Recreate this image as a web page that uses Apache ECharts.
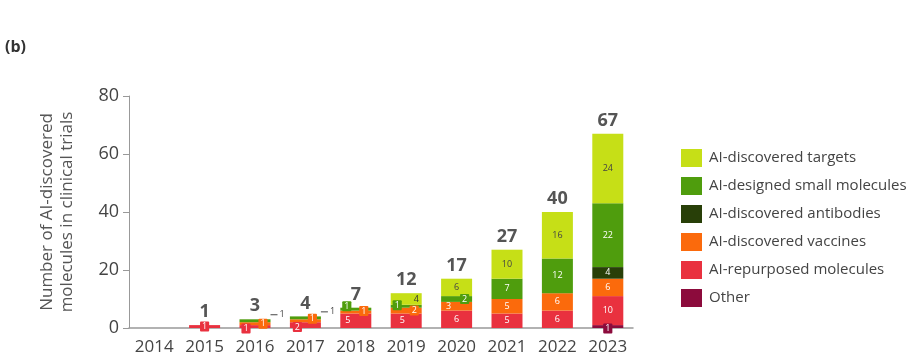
<!DOCTYPE html>
<html>
<head>
<meta charset="utf-8">
<script src="https://cdn.jsdelivr.net/npm/echarts@6/dist/echarts.min.js"></script>
<style>
html,body{margin:0;padding:0;background:#fff;}
#chart{width:914px;height:358px;}
</style>
</head>
<body>
<div id="chart"></div>
<script>
const years = ['2014','2015','2016','2017','2018','2019','2020','2021','2022','2023'];
const other        = [0,0,0,0,0,0,0,0,0,1];
const repurposed   = [0,1,1,2,5,5,6,5,6,10];
const vaccines     = [0,0,1,1,1,2,3,5,6,6];
const antibodies   = [0,0,0,0,0,0,0,0,0,4];
const smallMols    = [0,0,1,1,1,1,2,7,12,22];
const targets      = [0,0,0,0,0,4,6,10,16,24];
const totals       = [0,1,3,4,7,12,17,27,40,67];
const yTicks = [0,20,40,60,80];

const C = {
  targets:'#c6df17', small:'#4f9d0d', anti:'#283f08', vacc:'#fb6a0c', rep:'#e9313f', other:'#8c0b3c'
};

function box(color, off){
  return {show:true, position:'inside', offset:off||[0,0], color:'#fff', fontSize:9,
    fontFamily:'Open Sans', backgroundColor:color, padding:[1,2,0,2], borderRadius:1};
}
function txt(color, off){
  return {show:true, position:'inside', offset:off||[0,0], color:color, fontSize:9, fontFamily:'Open Sans'};
}
const leader = {show:true, position:'right', distance:0, offset:[0,-6],
  formatter:'{d|}{t|1}', rich:{d:{width:7,height:1,backgroundColor:'#444'}, t:{color:'#444',fontSize:9,padding:[0,0,0,2],fontFamily:'Open Sans'}}};

const overrides = {
  other: {9: box(C.other,[0,2])},
  rep: {1: box(C.rep,[0,0]), 2: box(C.rep,[-9,2]), 3: box(C.rep,[-8,2]), 4: txt('#fff',[-8,0]), 5: txt('#fff',[-4,0])},
  vacc: {2: box(C.vacc,[8,0]), 3: box(C.vacc,[7,-2]), 4: box(C.vacc,[8,-1]), 5: box(C.vacc,[8,0]), 6: txt('#fff',[-8,0])},
  small: {2: leader, 3: leader, 4: box(C.small,[-9,-3]), 5: box(C.small,[-9,-1]), 6: box(C.small,[8,0])},
  targets: {5: txt('#333',[10,0])}
};

function makeData(vals, key, color, textColor){
  return vals.map(function(v,i){
    const item = {value:v};
    const o = overrides[key] && overrides[key][i];
    if (o) item.label = o;
    else if (v > 0) item.label = {show:true, position:'inside', color:textColor, fontSize:9, fontFamily:'Open Sans'};
    else item.label = {show:false};
    return item;
  });
}

function ser(name, key, vals, color, textColor){
  return {name:name, type:'bar', stack:'s', barWidth:31,
    itemStyle:{color:color}, data:makeData(vals,key,color,textColor),
    label:{show:false}};
}

const series = [
  ser('Other','other',other,C.other,'#fff'),
  ser('AI-repurposed molecules','rep',repurposed,C.rep,'#fff'),
  ser('AI-discovered vaccines','vacc',vaccines,C.vacc,'#fff'),
  ser('AI-discovered antibodies','anti',antibodies,C.anti,'#fff'),
  ser('AI-designed small molecules','small',smallMols,C.small,'#fff'),
  ser('AI-discovered targets','targets',targets,C.targets,'#444'),
  {name:'Total', type:'bar', stack:'s', barWidth:31, data:totals.map(function(){return 0;}),
   itemStyle:{color:'transparent'},
   label:{show:true, position:'top', distance:4, color:'#555', fontSize:18, fontWeight:'bold', fontFamily:'Open Sans',
     formatter:function(p){return totals[p.dataIndex] ? String(totals[p.dataIndex]) : '';}}}
];

const chart = echarts.init(document.getElementById('chart'));
chart.setOption({
  animation:false,
  textStyle:{fontFamily:'Open Sans'},
  title:{text:'(b)', left:0, top:34, textStyle:{fontSize:16, fontWeight:'bold', color:'#333', fontFamily:'Open Sans'}},
  grid:{left:129, right:281, top:96, bottom:30},
  legend:{orient:'vertical', left:676, top:144, itemWidth:21, itemHeight:18, itemGap:10,
    icon:'rect',
    data:['AI-discovered targets','AI-designed small molecules','AI-discovered antibodies','AI-discovered vaccines','AI-repurposed molecules','Other'],
    textStyle:{fontSize:15, color:'#444', fontFamily:'Open Sans', padding:[0,0,0,2]}},
  xAxis:{type:'category', data:years,
    axisLine:{lineStyle:{color:'#999', width:1.5}}, axisTick:{show:false},
    axisLabel:{color:'#444', fontSize:17, margin:11, interval:0, hideOverlap:false, fontFamily:'Open Sans'}},
  yAxis:{type:'value', min:yTicks[0], max:yTicks[yTicks.length-1], interval:20,
    name:'Number of AI-discovered\nmolecules in clinical trials', nameLocation:'middle', nameGap:52,
    nameTextStyle:{color:'#555', fontSize:17, lineHeight:20, fontFamily:'Open Sans'},
    axisLine:{show:true, lineStyle:{color:'#999'}}, axisTick:{show:true, length:6, lineStyle:{color:'#999'}},
    splitLine:{show:false},
    axisLabel:{color:'#444', fontSize:18, margin:10, fontFamily:'Open Sans'}},
  series:series
});
</script>
</body>
</html>
